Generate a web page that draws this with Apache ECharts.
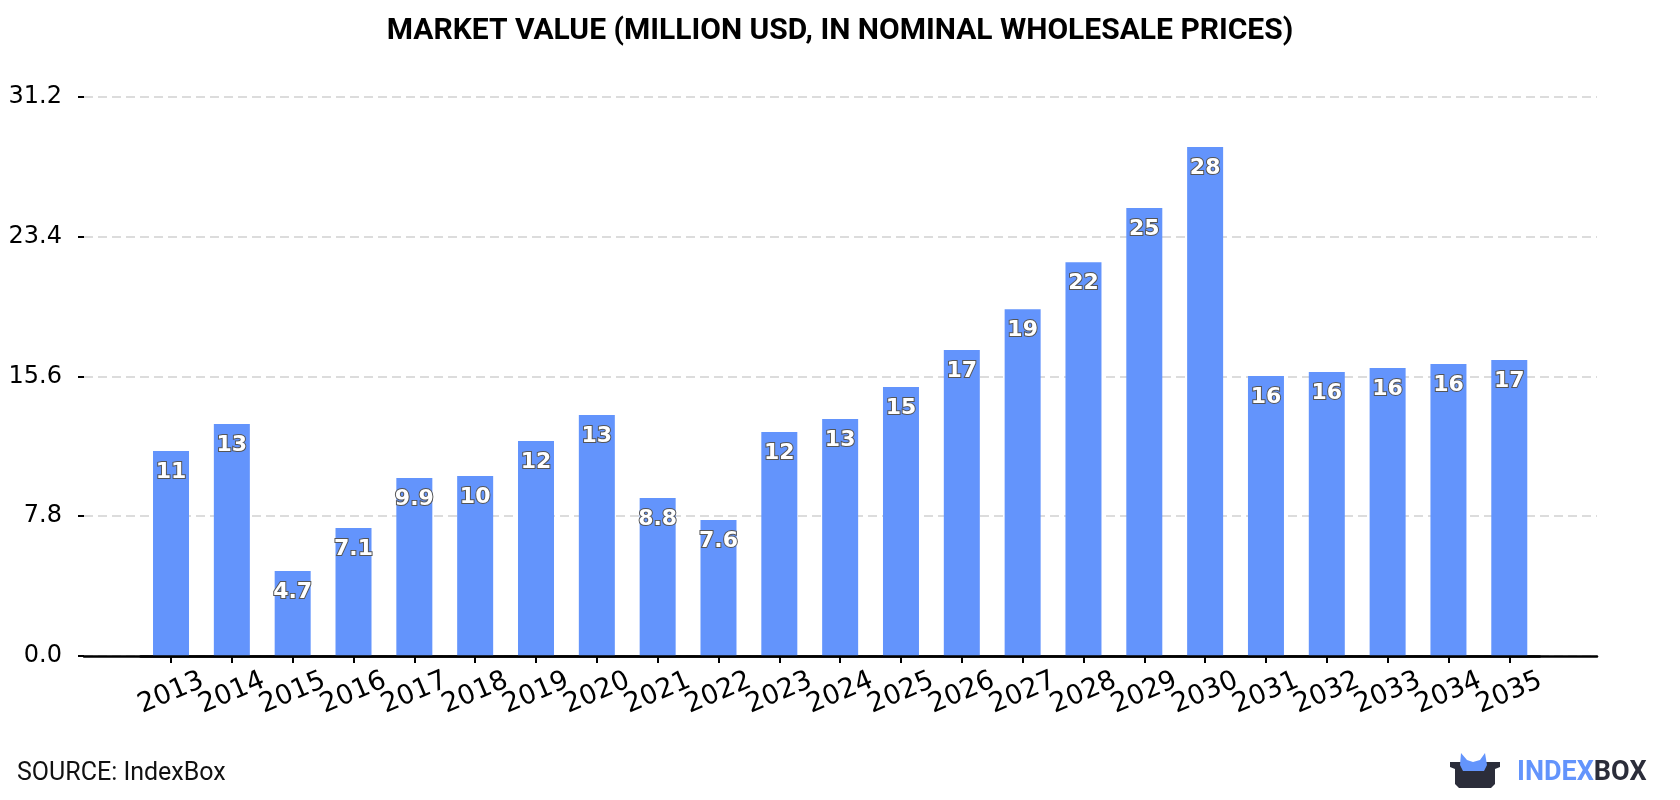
<!DOCTYPE html>
<html>
<head>
<meta charset="utf-8">
<script src="https://cdn.jsdelivr.net/npm/echarts@6/dist/echarts.min.js"></script>
<style>
  html, body { margin: 0; padding: 0; background: #fff; }
  #chart { width: 1680px; height: 800px; }
</style>
</head>
<body>
<div id="chart"></div>
<script>
// market value, million USD
const years = ['2013', '2014', '2015', '2016', '2017', '2018', '2019', '2020', '2021', '2022', '2023', '2024',
  '2025', '2026', '2027', '2028', '2029', '2030', '2031', '2032', '2033', '2034', '2035']
const values = [11.43, 12.94, 4.74, 7.14, 9.93, 10.04, 11.99, 13.44, 8.81, 7.59, 12.49, 13.22,
  15.0, 17.07, 19.35, 21.97, 24.99, 28.39, 15.62, 15.84, 16.06, 16.29, 16.51]
const yTicks = [0, 7.8, 15.6, 23.4, 31.2]

const chart = echarts.init(document.getElementById('chart'))

const fmtLabel = v => (v >= 10 ? String(Math.round(v)) : v.toFixed(1))

const yMin = yTicks[0]
const yMax = yTicks[yTicks.length - 1]

const option = {
  animation: false,
  title: {
    text: 'MARKET VALUE (MILLION USD, IN NOMINAL WHOLESALE PRICES)',
    left: 'center',
    top: 11,
    textStyle: {
      fontFamily: 'Roboto',
      fontWeight: 'bold',
      fontSize: 30,
      color: '#000'
    }
  },
  // wide grid: gridlines, y labels, axis line; narrow grid: the bars
  grid: [
    { left: 84, right: 83, top: 96.7, bottom: 144 },
    { left: 140.6, right: 140.3, top: 96.7, bottom: 144 }
  ],
  xAxis: [
    {
      gridIndex: 0,
      type: 'value',
      min: 0,
      max: 1,
      splitLine: { show: false },
      axisLabel: { show: false },
      axisTick: { show: false },
      axisLine: { show: true, lineStyle: { color: '#000', width: 2.5 } }
    },
    {
      gridIndex: 1,
      type: 'category',
      data: years,
      z: 10,
      axisLine: { show: true, lineStyle: { color: '#000', width: 2.5 } },
      axisTick: {
        show: true,
        alignWithLabel: true,
        length: 7,
        lineStyle: { color: '#000', width: 2 }
      },
      axisLabel: {
        interval: 0,
        rotate: 23,
        align: 'center',
        verticalAlign: 'middle',
        margin: 37,
        fontFamily: 'DejaVu Sans',
        fontSize: 27,
        color: '#000'
      }
    }
  ],
  yAxis: [
    {
      gridIndex: 0,
      type: 'value',
      min: yMin,
      max: yMax,
      interval: 7.8,
      axisLine: { show: false },
      axisTick: {
        show: true,
        length: 6,
        lineStyle: { color: '#000', width: 2 }
      },
      axisLabel: {
        margin: 22,
        fontFamily: 'DejaVu Sans',
        fontSize: 24,
        color: '#000',
        formatter: v => v.toFixed(1)
      },
      splitLine: {
        show: true,
        lineStyle: { color: '#dcdcdc', width: 2, type: [9, 5] }
      }
    },
    {
      gridIndex: 1,
      type: 'value',
      min: yMin,
      max: yMax,
      interval: 7.8,
      show: false,
      splitLine: { show: false }
    }
  ],
  series: [
    {
      type: 'bar',
      xAxisIndex: 1,
      yAxisIndex: 1,
      barWidth: 36,
      itemStyle: { color: '#6394fc' },
      data: values,
      label: {
        show: true,
        position: 'insideTop',
        distance: 10,
        fontFamily: 'DejaVu Sans',
        fontWeight: 'bold',
        fontSize: 22,
        color: '#fff',
        textBorderColor: '#555',
        textBorderWidth: 2,
        formatter: p => fmtLabel(p.value)
      }
    }
  ],
  graphic: [
    {
      type: 'text',
      left: 17,
      top: 761,
      style: {
        text: 'SOURCE: IndexBox',
        font: '25px Roboto',
        fill: '#111'
      }
    },
    // logo box
    {
      type: 'polygon',
      shape: {
        points: [[1450, 762], [1500, 762], [1500, 767], [1495, 769], [1495, 784],
          [1491, 788], [1459, 788], [1455, 784], [1455, 769], [1450, 767]]
      },
      style: { fill: '#2b2d3a' }
    },
    {
      type: 'polygon',
      shape: {
        points: [[1461, 753], [1467, 760], [1473, 762], [1480, 760], [1485, 753],
          [1487, 765], [1484, 771], [1463, 771], [1460, 765]]
      },
      style: { fill: '#6394fc' }
    },
    {
      type: 'text',
      left: 1517,
      top: 760,
      style: {
        text: '{a|INDEX}{b|BOX}',
        rich: {
          a: { fontFamily: 'Roboto', fontWeight: 'bold', fontSize: 27, fill: '#6394fc' },
          b: { fontFamily: 'Roboto', fontWeight: 'bold', fontSize: 27, fill: '#2b2d3a' }
        }
      }
    }
  ]
}

chart.setOption(option)

window.addEventListener('resize', () => {
  chart.resize()
})
</script>
</body>
</html>
